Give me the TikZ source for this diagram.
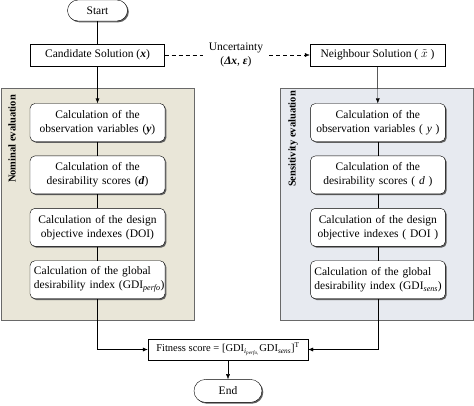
\documentclass[tikz,border=0pt]{standalone}
\usepackage{fontspec}
\setmainfont{Liberation Serif}
\usetikzlibrary{arrows.meta, positioning, shadows, backgrounds}
\definecolor{nominalbg}{RGB}{233, 230, 216}
\definecolor{sensitivebg}{RGB}{231, 234, 240}
\definecolor{panelgray}{RGB}{105, 105, 105}
\definecolor{shadowgray}{RGB}{95, 95, 95}

\begin{document}
\begin{tikzpicture}[x=1pt, y=1pt,
    font=\fontsize{11.5}{14}\selectfont,
    terminal/.style={draw, fill=white, rounded corners=10.5pt, minimum width=60pt,
                     minimum height=21pt, inner sep=0pt,
                     drop shadow={shadow xshift=1.3pt, shadow yshift=-1.3pt, opacity=1, fill=shadowgray}},
    solution/.style={draw, fill=white, minimum width=134pt, minimum height=22pt, inner sep=0pt},
    calc/.style={draw, fill=white, rounded corners=5pt, text width=127pt, inner xsep=4pt,
                 minimum height=38pt, align=center,
                 drop shadow={shadow xshift=1.3pt, shadow yshift=-1.3pt, opacity=1, fill=shadowgray}},
    panel/.style={draw=panelgray, fill=#1, line width=0.6pt},
    panellabel/.style={rotate=90, font=\fontsize{10.5}{12}\selectfont\bfseries},
    flow/.style={-{Latex[length=5pt, width=4pt]}},
    link/.style={dash pattern=on 4pt off 3pt}
]
    \useasboundingbox (0,0) rectangle (474,-405);

    % top row
    \node[terminal] (start) at (97.5,-10.5) {Start};
    \node[solution] (cand) at (97.5,-55) {Candidate Solution (\textbf{\textit{x}})};
    \node[align=center, inner xsep=6pt] (unc) at (236,-55) {Uncertainty\\(\textbf{\textit{Δx}}, \textbf{\textit{ε}})};
    \node[solution, minimum width=135pt] (neigh) at (377.5,-55) {Neighbour Solution ( $\tilde{x}$ )};

    % nominal evaluation
    \node[calc] (lobs) at (97.5,-122.5) {Calculation of the\\observation variables (\textbf{\textit{y}})};
    \node[calc, below=14pt of lobs] (ldes) {Calculation of the\\desirability scores (\textbf{\textit{d}})};
    \node[calc, below=14pt of ldes] (ldoi) {Calculation of the design\\objective indexes (DOI)};
    \node[calc, below=14pt of ldoi] (lgdi) {\makebox[127pt][s]{Calculation of the global}\\\makebox[127pt][s]{desirability index (GDI\textsubscript{\textit{perfo}})}};

    % sensitivity evaluation
    \node[calc, right=145pt of lobs] (robs) {Calculation of the\\observation variables ( \textit{y} )};
    \node[calc, below=14pt of robs] (rdes) {Calculation of the\\desirability scores ( \textit{d} )};
    \node[calc, below=14pt of rdes] (rdoi) {Calculation of the design\\objective indexes ( DOI )};
    \node[calc, below=14pt of rdoi] (rgdi) {\makebox[127pt][s]{Calculation of the global}\\\makebox[127pt][s]{desirability index (GDI\textsubscript{\textit{sens}})}};

    % result
    \node[solution, minimum width=160pt, minimum height=21pt, font=\fontsize{10.5}{12}\selectfont] (fit) at (228,-349.5)
        {Fitness score = [GDI\textsubscript{\textit{i}\textsubscript{\textit{perfo,}}}GDI\textsubscript{\textit{sens}}]\textsuperscript{T}};
    \node[terminal, minimum width=68pt, minimum height=23pt, rounded corners=11.5pt, below=19pt of fit] (finish) {End};

    % panels
    \begin{scope}[on background layer]
        \draw[panel=nominalbg] (1,-88) rectangle (194,-320);
        \draw[panel=sensitivebg] (280,-88) rectangle (473.5,-320);
    \end{scope}
    \node[panellabel] (nomlabel) at (12,-139) {Nominal evaluation};
    \node[panellabel] (senslabel) at (293,-139) {Sensitivity evaluation};

    % connectors
    \draw (start) -- (cand);
    \draw[flow] (cand) -- (lobs);
    \draw (lobs) -- (ldes) -- (ldoi) -- (lgdi);
    \draw[flow] (lgdi) |- (fit);
    \draw[link] (cand) -- (unc);
    \draw[link, flow] (unc) -- (neigh);
    \draw[flow] (neigh) -- (robs);
    \draw (robs) -- (rdes) -- (rdoi) -- (rgdi);
    \draw[flow] (rgdi) |- (fit);
    \draw[flow] (fit) -- (finish);
\end{tikzpicture}
\end{document}
